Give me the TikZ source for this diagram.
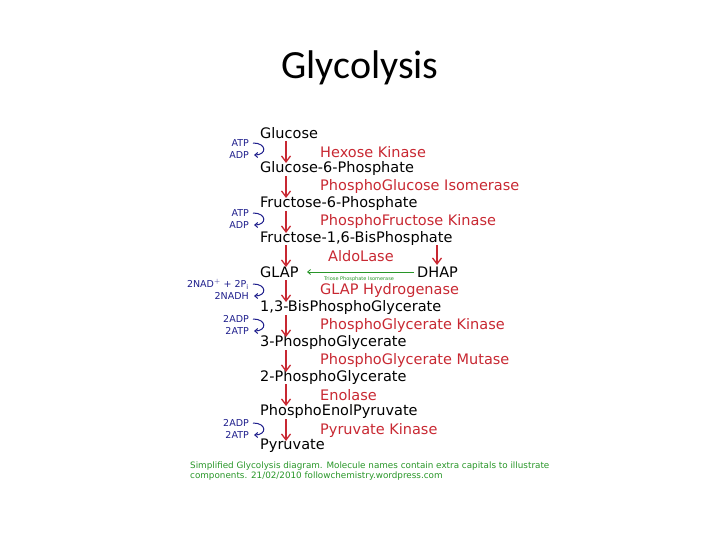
\documentclass[tikz,border=0pt]{standalone}
\usepackage{fontspec}
\setmainfont{DejaVu Sans}
\newfontfamily\titlefont{Carlito}
\usetikzlibrary{arrows.meta}
\definecolor{enz}{RGB}{200,40,50}
\definecolor{cof}{RGB}{30,30,140}
\definecolor{grn}{RGB}{40,150,40}
\begin{document}
\begin{tikzpicture}[x=1pt,y=-1pt,
  met/.style={anchor=west,inner sep=0,font=\fontsize{14.5}{15}\selectfont},
  enzy/.style={anchor=west,inner sep=0,text=enz,font=\fontsize{14.5}{15}\selectfont},
  cofl/.style={anchor=east,inner sep=0,text=cof,font=\fontsize{9.5}{10}\selectfont},
  rarr/.style={draw=enz,line width=1.3pt,-{Straight Barb[length=6pt,width=9pt]}},
  carr/.style={draw=cof,line width=1pt,-{Straight Barb[length=3pt,width=5pt]}}]
\useasboundingbox (0,0) rectangle (720,540);
\node (title) at (360,68) {\titlefont\fontsize{40}{44}\selectfont Glycolysis};
\foreach \n/\y/\t in {m1/133/Glucose,m2/169/Glucose-6-Phosphate,m3/203/Fructose-6-Phosphate,m4/238/Fructose-1{,}6-BisPhosphate,m5/272/GLAP,m6/307/1{,}3-BisPhosphoGlycerate,m7/342/3-PhosphoGlycerate,m8/377/2-PhosphoGlycerate,m9/411/PhosphoEnolPyruvate,m10/446/Pyruvate}
  \node[met] (\n) at (260,\y) {\t};
\node[met] (dhap) at (417,272) {DHAP};
\foreach \n/\y/\t in {e1/152/Hexose Kinase,e2/187/PhosphoGlucose Isomerase,e3/221/PhosphoFructose Kinase,e5/290/GLAP Hydrogenase,e6/325/PhosphoGlycerate Kinase,e7/360/PhosphoGlycerate Mutase,e8/395/Enolase,e9/430/Pyruvate Kinase}
  \node[enzy] (\n) at (320,\y) {\t};
\node[enzy] (e4) at (328,256) {AldoLase};
\foreach \y in {141,176,211,245,280,315,350,384,419}
  { \coordinate (a\y) at (286,\y); \coordinate (b\y) at (286,\y+22); \draw[rarr] (a\y) -- (b\y); }
\coordinate (d1) at (437,245); \coordinate (d2) at (437,265);
\draw[rarr] (d1) -- (d2);
\draw[draw=grn,line width=0.8pt,-{Straight Barb[length=3pt,width=5pt]}] (dhap.west) ++(-3,0) coordinate (g1) -- (307,272) coordinate (g2);
\node[text=grn,inner sep=0,font=\fontsize{5}{5}\selectfont] (tpi) at (359,279) {Triose Phosphate Isomerase};
\foreach \y/\a/\b/\k in {143/ATP/ADP/1,213/ATP/ADP/2,284/2NAD$^{+}$ + 2P\textsubscript{i}/2NADH/3,319/2ADP/2ATP/4,423/2ADP/2ATP/5}{
  \node[cofl] (ct\k) at (249,\y) {\a};
  \node[cofl] (cb\k) at (249,\y+12) {\b};
  \draw[carr] (253,\y) .. controls (267,\y) and (267,\y+12) .. (254,\y+12);
}
\node[anchor=west,inner sep=0,text=grn,font=\fontsize{8.8}{9.5}\selectfont,align=left] (foot) at (190,471) {Simplified Glycolysis diagram. Molecule names contain extra capitals to illustrate\\components. 21/02/2010 followchemistry.wordpress.com};
\end{tikzpicture}
\end{document}
